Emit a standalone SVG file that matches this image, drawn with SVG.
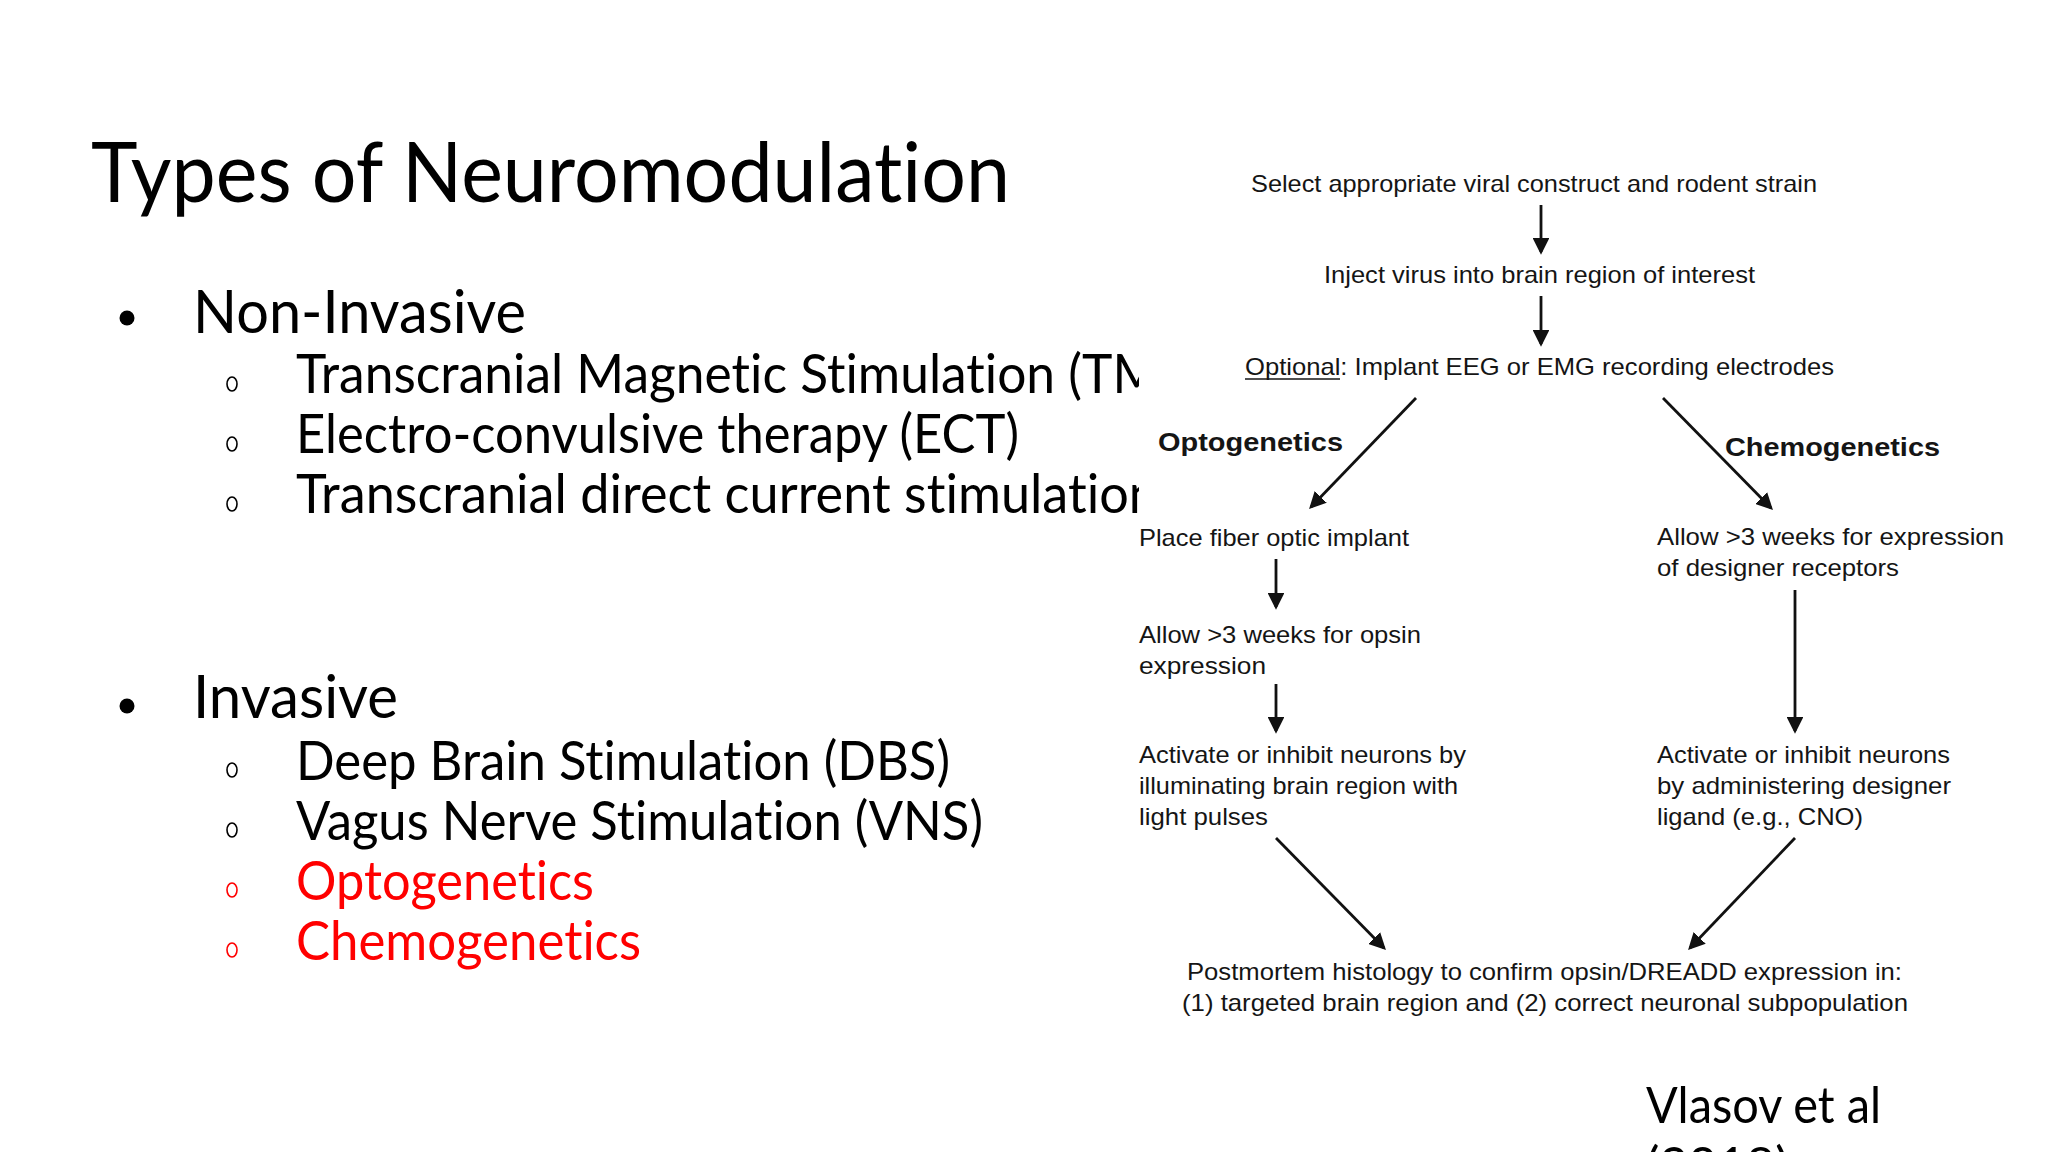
<svg xmlns="http://www.w3.org/2000/svg" width="2048" height="1152" viewBox="0 0 2048 1152">
<style>
.sl{font-family:Lato,"Open Sans","Liberation Sans",sans-serif;fill:#000;font-variant-ligatures:none}
.red{fill:#ff0000}
.fc{font-family:"Liberation Sans",Arial,sans-serif;font-size:24px;fill:#151515}
.fb{font-family:"Liberation Sans",Arial,sans-serif;font-size:26px;font-weight:bold;fill:#151515}
.ar{stroke:#111;stroke-width:2.8;fill:none;marker-end:url(#ah)}
</style>
<defs>
<marker id="ah" markerWidth="6" markerHeight="6" refX="5" refY="3" orient="auto" markerUnits="strokeWidth">
<path d="M0,0 L6,3 L0,6 Z" fill="#111"/>
</marker>
<clipPath id="leftclip"><rect x="0" y="0" width="1139" height="1152"/></clipPath>
</defs>
<rect width="2048" height="1152" fill="#fff"/>

<g id="slide-text" clip-path="url(#leftclip)">
<text class="sl" x="91" y="202" font-size="84" textLength="919" lengthAdjust="spacingAndGlyphs">Types of Neuromodulation</text>
<circle cx="127" cy="318" r="7.5" fill="#000"/>
<text class="sl" x="193" y="333" font-size="60" textLength="333" lengthAdjust="spacingAndGlyphs">Non-Invasive</text>
<g fill="none" stroke="#000" stroke-width="1.6">
<ellipse cx="232" cy="384" rx="5" ry="7"/>
<ellipse cx="232" cy="444" rx="5" ry="7"/>
<ellipse cx="232" cy="504" rx="5" ry="7"/>
<ellipse cx="232" cy="770" rx="5" ry="7"/>
<ellipse cx="232" cy="830" rx="5" ry="7"/>
</g>
<g fill="none" stroke="#ff0000" stroke-width="1.6">
<ellipse cx="232" cy="890" rx="5" ry="7"/>
<ellipse cx="232" cy="950" rx="5" ry="7"/>
</g>
<text class="sl" x="296" y="393" font-size="54" textLength="906" lengthAdjust="spacingAndGlyphs">Transcranial Magnetic Stimulation (TMS)</text>
<text class="sl" x="296" y="453" font-size="54" textLength="723" lengthAdjust="spacingAndGlyphs">Electro-convulsive therapy (ECT)</text>
<text class="sl" x="296" y="513" font-size="54" textLength="862" lengthAdjust="spacingAndGlyphs">Transcranial direct current stimulation</text>
<circle cx="127" cy="706" r="7.5" fill="#000"/>
<text class="sl" x="193" y="718" font-size="60" textLength="205" lengthAdjust="spacingAndGlyphs">Invasive</text>
<text class="sl" x="296" y="780" font-size="54" textLength="654" lengthAdjust="spacingAndGlyphs">Deep Brain Stimulation (DBS)</text>
<text class="sl" x="296" y="840" font-size="54" textLength="687" lengthAdjust="spacingAndGlyphs">Vagus Nerve Stimulation (VNS)</text>
<text class="sl red" x="296" y="900" font-size="54" textLength="298" lengthAdjust="spacingAndGlyphs">Optogenetics</text>
<text class="sl red" x="296" y="960" font-size="54" textLength="345" lengthAdjust="spacingAndGlyphs">Chemogenetics</text>
</g>

<g id="citation">
<text class="sl" x="1646" y="1123" font-size="50" textLength="235" lengthAdjust="spacingAndGlyphs">Vlasov et al</text>
<text class="sl" x="1646" y="1183" font-size="50">(2018)</text>
</g>

<g id="connectors">
<line class="ar" x1="1541" y1="205" x2="1541" y2="252"/>
<line class="ar" x1="1541" y1="296" x2="1541" y2="344"/>
<line class="ar" x1="1416" y1="398" x2="1311" y2="507"/>
<line class="ar" x1="1663" y1="398" x2="1771" y2="508"/>
<line class="ar" x1="1276" y1="559" x2="1276" y2="607"/>
<line class="ar" x1="1276" y1="684" x2="1276" y2="731"/>
<line class="ar" x1="1795" y1="590" x2="1795" y2="731"/>
<line class="ar" x1="1276" y1="838" x2="1384" y2="948"/>
<line class="ar" x1="1795" y1="838" x2="1690" y2="948"/>
</g>

<g id="n-select"><text class="fc" x="1251" y="192" textLength="566" lengthAdjust="spacingAndGlyphs">Select appropriate viral construct and rodent strain</text></g>
<g id="n-inject"><text class="fc" x="1324" y="283" textLength="431" lengthAdjust="spacingAndGlyphs">Inject virus into brain region of interest</text></g>
<g id="n-optional">
<text class="fc" x="1245" y="375" textLength="589" lengthAdjust="spacingAndGlyphs">Optional: Implant EEG or EMG recording electrodes</text>
<line x1="1245" y1="379" x2="1340" y2="379" stroke="#151515" stroke-width="1.6"/>
</g>
<g id="lbl-opto"><text class="fb" x="1158" y="451" textLength="185" lengthAdjust="spacingAndGlyphs">Optogenetics</text></g>
<g id="lbl-chemo"><text class="fb" x="1725" y="456" textLength="215" lengthAdjust="spacingAndGlyphs">Chemogenetics</text></g>
<g id="n-fiber"><text class="fc" x="1139" y="546" textLength="270" lengthAdjust="spacingAndGlyphs">Place fiber optic implant</text></g>
<g id="n-opsin">
<text class="fc" x="1139" y="643" textLength="282" lengthAdjust="spacingAndGlyphs">Allow &gt;3 weeks for opsin</text>
<text class="fc" x="1139" y="674" textLength="127" lengthAdjust="spacingAndGlyphs">expression</text>
</g>
<g id="n-illum">
<text class="fc" x="1139" y="763" textLength="327" lengthAdjust="spacingAndGlyphs">Activate or inhibit neurons by</text>
<text class="fc" x="1139" y="794" textLength="319" lengthAdjust="spacingAndGlyphs">illuminating brain region with</text>
<text class="fc" x="1139" y="825" textLength="129" lengthAdjust="spacingAndGlyphs">light pulses</text>
</g>
<g id="n-receptors">
<text class="fc" x="1657" y="545" textLength="347" lengthAdjust="spacingAndGlyphs">Allow &gt;3 weeks for expression</text>
<text class="fc" x="1657" y="576" textLength="242" lengthAdjust="spacingAndGlyphs">of designer receptors</text>
</g>
<g id="n-ligand">
<text class="fc" x="1657" y="763" textLength="293" lengthAdjust="spacingAndGlyphs">Activate or inhibit neurons</text>
<text class="fc" x="1657" y="794" textLength="294" lengthAdjust="spacingAndGlyphs">by administering designer</text>
<text class="fc" x="1657" y="825" textLength="206" lengthAdjust="spacingAndGlyphs">ligand (e.g., CNO)</text>
</g>
<g id="n-postmortem">
<text class="fc" x="1187" y="980" textLength="715" lengthAdjust="spacingAndGlyphs">Postmortem  histology to confirm opsin/DREADD expression in:</text>
<text class="fc" x="1182" y="1011" textLength="726" lengthAdjust="spacingAndGlyphs">(1) targeted brain region and (2) correct  neuronal subpopulation</text>
</g>
</svg>
